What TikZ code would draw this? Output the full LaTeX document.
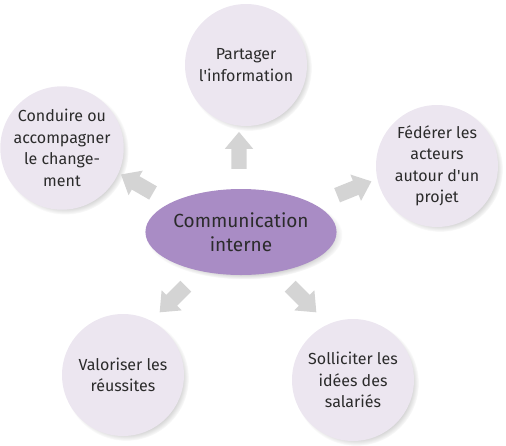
\documentclass[tikz,border=0pt]{standalone}
\usepackage{fontspec}
\setmainfont{Fira Sans}
\usetikzlibrary{shapes.geometric,shapes.arrows,shadows,fadings}
\definecolor{softlilac}{HTML}{ECE6F0}
\definecolor{hubpurple}{HTML}{A98CC5}
\definecolor{arrowgrey}{HTML}{D4D4D4}
\definecolor{inktext}{HTML}{2B2B2B}

\begin{document}
\begin{tikzpicture}[x=1pt,y=-1pt]
\tikzstyle{every node}+=[inner sep=0pt, text=inktext, align=center]
\tikzstyle{softshadow}=[circular drop shadow={shadow xshift=3pt, shadow yshift=-3pt, shadow scale=1.03, opacity=0.45}]
\tikzstyle{goal}=[circle, minimum size=122pt, fill=softlilac, softshadow, font=\fontsize{16}{21.5}\selectfont]
\tikzstyle{hub}=[ellipse, minimum width=190pt, minimum height=86pt, fill=hubpurple, softshadow, font=\fontsize{19}{24}\selectfont]
\tikzstyle{blockarrow}=[single arrow, fill=arrowgrey, inner xsep=0pt, inner ysep=7.5pt, minimum height=37pt, single arrow head extend=6.5pt, single arrow tip angle=80]
\useasboundingbox (0,0) rectangle (506,445);
\node [hub] (com) at (241,232) {Communication\\interne};
\node [goal] (partager) at (246,65) {Partager\\l\textquotesingle information};
\node [goal] (conduire) at (62,148) {Conduire ou\\accompagner\\le change-\\ment};
\node [goal] (federer) at (437,166) {Fédérer les\\acteurs\\autour d\textquotesingle un\\projet};
\node [goal] (valoriser) at (123,375) {Valoriser les\\réussites};
\node [goal] (solliciter) at (353,380) {Solliciter les\\idées des\\salariés};
\node [blockarrow, rotate=90] (toPartager) at (239,155) {};
\node [blockarrow, rotate=150] (toConduire) at (141,186) {};
\node [blockarrow, rotate=22] (toFederer) at (350,190) {};
\node [blockarrow, rotate=225] (toValoriser) at (176,296) {};
\node [blockarrow, rotate=-45] (toSolliciter) at (300,296) {};
\end{tikzpicture}
\end{document}
